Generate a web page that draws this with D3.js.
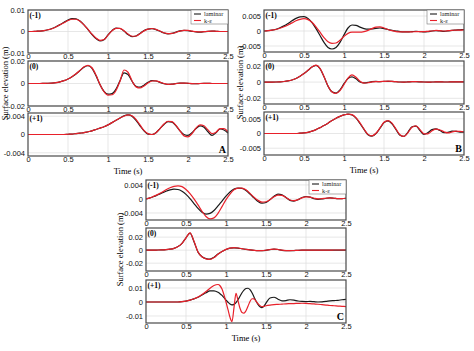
<!DOCTYPE html>
<html>
<head>
<meta charset="utf-8">
<script src="https://cdn.jsdelivr.net/npm/d3@7"></script>
<style>
  body { margin: 0; background: #fff; }
  svg { display: block; font-family: "Liberation Serif", "Times New Roman", serif; }
</style>
</head>
<body>
<div id="chart"></div>
<script>
// ---- data ----
var time = [0, 0.05, 0.1, 0.15, 0.2, 0.25, 0.3, 0.35, 0.4, 0.45,
  0.5, 0.55, 0.6, 0.65, 0.7, 0.75, 0.8, 0.85, 0.9, 0.95,
  1, 1.05, 1.1, 1.15, 1.2, 1.25, 1.3, 1.35, 1.4, 1.45,
  1.5, 1.55, 1.6, 1.65, 1.7, 1.75, 1.8, 1.85, 1.9, 1.95,
  2, 2.05, 2.1, 2.15, 2.2, 2.25, 2.3, 2.35, 2.4, 2.45, 2.5];

// finer sampling for panel C (+1), where k-e has sharp spikes
var timeC3 = [0, 0.05, 0.1, 0.15, 0.2, 0.25, 0.3, 0.35, 0.4, 0.45,
  0.5, 0.55, 0.6, 0.65, 0.7, 0.75, 0.8, 0.85, 0.9,
  0.925, 0.95, 0.975, 1, 1.025, 1.05, 1.075, 1.1, 1.125, 1.15, 1.175, 1.2,
  1.225, 1.25, 1.275, 1.3, 1.325, 1.35, 1.375, 1.4, 1.425, 1.45, 1.475, 1.5,
  1.55, 1.6, 1.65, 1.7, 1.75, 1.8, 1.85, 1.9, 1.95, 2,
  2.05, 2.1, 2.15, 2.2, 2.25, 2.3, 2.35, 2.4, 2.45, 2.5];

var xTicks = [0, 0.5, 1, 1.5, 2, 2.5];
var seriesNames = ["laminar", "k-\u03b5"];

// A
var a1Laminar = [0, 0, 0.0001, 0.0002, 0.0004, 0.0008, 0.0014, 0.0022, 0.0032, 0.0043,
  0.0053, 0.0060, 0.0059, 0.0049, 0.0031, 0.0009, -0.0014, -0.0033, -0.0044, -0.0038,
  -0.0016, 0.0004, 0.0016, 0.0014, 0.0002, -0.0014, -0.0024, -0.0021, -0.0009, 0.0004,
  0.0011, 0.0013, 0.0009, 0.0001, -0.0007, -0.0011, -0.0009, -0.0003, 0.0003, 0.0005,
  0.0004, 0.0001, -0.0002, -0.0003, -0.0001, 0.0001, 0.0002, 0.0001, 0, 0, 0];
var a1KE = [0, 0, 0.0001, 0.0002, 0.0004, 0.0008, 0.0013, 0.0021, 0.0031, 0.0041,
  0.0051, 0.0057, 0.0057, 0.0048, 0.0031, 0.0010, -0.0012, -0.0030, -0.0041, -0.0037,
  -0.0017, 0.0003, 0.0015, 0.0015, 0.0004, -0.0012, -0.0022, -0.0021, -0.0010, 0.0003,
  0.0011, 0.0014, 0.0010, 0.0002, -0.0006, -0.0010, -0.0009, -0.0004, 0.0002, 0.0005,
  0.0005, 0.0002, -0.0001, -0.0002, -0.0001, 0.0001, 0.0002, 0.0001, 0, 0, 0];
var a1Ticks = [-0.01, 0, 0.01];

var a2Laminar = [0, 0, 0, 0, 0.0001, 0.0002, 0.0004, 0.0008, 0.0015, 0.0025,
  0.0040, 0.0060, 0.0085, 0.0115, 0.0145, 0.0158, 0.0135, 0.0070, -0.0010, -0.0070,
  -0.0095, -0.0090, -0.0050, 0.0025, 0.0095, 0.0080, 0.0020, -0.0025, -0.0033, -0.0015,
  0.0010, 0.0025, 0.0022, 0.0010, -0.0002, -0.0008, -0.0006, 0, 0.0004, 0.0004,
  0.0001, -0.0002, -0.0002, 0, 0.0001, 0.0001, 0, 0, 0, 0, 0];
var a2KE = [0, 0, 0, 0, 0.0001, 0.0002, 0.0004, 0.0008, 0.0015, 0.0025,
  0.0040, 0.0060, 0.0086, 0.0117, 0.0148, 0.0162, 0.0140, 0.0075, -0.0008, -0.0072,
  -0.0103, -0.0100, -0.0062, 0.0020, 0.0120, 0.0100, 0.0025, -0.0030, -0.0040, -0.0022,
  0.0005, 0.0022, 0.0023, 0.0012, 0, -0.0007, -0.0006, -0.0001, 0.0003, 0.0004,
  0.0002, -0.0001, -0.0002, 0, 0.0001, 0.0001, 0, 0, 0, 0, 0];
var a2Ticks = [-0.02, 0, 0.02];

var a3Laminar = [0, 0, 0, 0, 0, 0, 0, 0, 0, 0,
  0.00005, 0.0001, 0.0002, 0.0003, 0.0004, 0.0006, 0.0008, 0.0011, 0.0014, 0.0017,
  0.0021, 0.0026, 0.0031, 0.0036, 0.0041, 0.0043, 0.0040, 0.0031, 0.0019, 0.0008,
  0.0001, 0, 0.0004, 0.0013, 0.0022, 0.0028, 0.0027, 0.0019, 0.0008, 0,
  -0.0002, 0.0004, 0.0013, 0.0019, 0.0016, 0.0006, -0.0002, 0.0004, 0.0012, 0.0010, 0.0003];
var a3KE = [0, 0, 0, 0, 0, 0, 0, 0, 0, 0,
  0.00005, 0.0001, 0.0002, 0.0003, 0.0004, 0.0006, 0.0008, 0.0011, 0.0014, 0.0017,
  0.0021, 0.0026, 0.0031, 0.0036, 0.0040, 0.0043, 0.0041, 0.0033, 0.0021, 0.0009,
  0.0002, 0, 0.0004, 0.0013, 0.0023, 0.0029, 0.0028, 0.0020, 0.0008, -0.0003,
  -0.0005, 0.0002, 0.0014, 0.0021, 0.0019, 0.0010, 0.0002, 0.0005, 0.0013, 0.0013, 0.0006];
var a3Ticks = [-0.004, 0, 0.004];

// B
var b1Laminar = [0, 0.0001, 0.0003, 0.0006, 0.0011, 0.0017, 0.0025, 0.0034, 0.0042, 0.0047,
  0.0048, 0.0042, 0.0028, 0.0008, -0.0015, -0.0038, -0.0055, -0.0060, -0.0055, -0.0038,
  -0.0013, 0.0010, 0.0020, 0.0019, 0.0013, 0.0008, 0.0006, 0.0007, 0.0009, 0.0010,
  0.0008, 0.0005, 0.0002, 0, -0.0002, -0.0003, -0.0003, -0.0002, -0.0001, -0.0002,
  -0.0003, -0.0002, 0, 0.0001, 0, -0.0001, 0, 0.0002, 0.0003, 0.0004, 0.0005];
var b1KE = [0, 0.0001, 0.0003, 0.0005, 0.0009, 0.0014, 0.0020, 0.0027, 0.0034, 0.0039,
  0.0041, 0.0038, 0.0029, 0.0014, -0.0004, -0.0022, -0.0036, -0.0041, -0.0040, -0.0031,
  -0.0018, -0.0008, -0.0004, -0.0004, -0.0004, -0.0002, 0.0002, 0.0008, 0.0013, 0.0014,
  0.0010, 0.0005, 0.0001, -0.0002, -0.0003, -0.0003, -0.0003, -0.0003, -0.0002, -0.0002,
  -0.0002, -0.0001, 0, 0.0002, 0.0001, 0, 0.0001, 0.0002, 0.0003, 0.0003, 0.0004];
var b1Ticks = [-0.005, 0, 0.005];

var b2Laminar = [0, 0, 0, 0.0001, 0.0003, 0.0007, 0.0014, 0.0026, 0.0045, 0.0072,
  0.0105, 0.0145, 0.0185, 0.0205, 0.0165, 0.0065, -0.0050, -0.0120, -0.0135, -0.0095,
  -0.0020, 0.0045, 0.0065, 0.0040, 0.0002, -0.0010, -0.0004, 0.0005, 0.0008, 0.0006,
  0.0008, 0.0010, 0.0008, 0.0004, 0.0001, 0, 0.0002, 0.0004, 0.0005, 0.0003,
  0.0001, 0, 0.0001, 0.0002, 0.0002, 0.0001, 0.0001, 0.0002, 0.0002, 0.0002, 0.0002];
var b2KE = [0, 0, 0, 0.0001, 0.0003, 0.0007, 0.0014, 0.0026, 0.0045, 0.0072,
  0.0105, 0.0146, 0.0187, 0.0208, 0.0170, 0.0070, -0.0048, -0.0122, -0.0140, -0.0105,
  -0.0030, 0.0050, 0.0090, 0.0060, 0.0010, -0.0012, -0.0008, 0.0002, 0.0007, 0.0007,
  0.0009, 0.0011, 0.0009, 0.0005, 0.0001, 0, 0.0002, 0.0005, 0.0006, 0.0003,
  0.0001, 0, 0.0001, 0.0002, 0.0002, 0.0001, 0.0001, 0.0002, 0.0002, 0.0002, 0.0002];
var b2Ticks = [-0.02, 0, 0.02];

var b3Laminar = [0, 0, 0, 0, 0, 0, 0, 0, 0, 0.0001,
  0.0002, 0.0004, 0.0008, 0.0013, 0.0020, 0.0027, 0.0035, 0.0044, 0.0052, 0.0058,
  0.0063, 0.0066, 0.0063, 0.0052, 0.0034, 0.0014, -0.0004, -0.0009, 0, 0.0018,
  0.0037, 0.0043, 0.0033, 0.0013, -0.0006, -0.0010, 0.0005, 0.0023, 0.0025, 0.0010,
  -0.0003, 0.0003, 0.0013, 0.0016, 0.0010, 0.0003, 0.0004, 0.0008, 0.0007, 0.0005, 0.0005];
var b3KE = [0, 0, 0, 0, 0, 0, 0, 0, 0, 0.0001,
  0.0002, 0.0004, 0.0008, 0.0013, 0.0020, 0.0027, 0.0035, 0.0044, 0.0052, 0.0058,
  0.0063, 0.0066, 0.0064, 0.0054, 0.0036, 0.0015, -0.0003, -0.0008, 0.0001, 0.0019,
  0.0038, 0.0044, 0.0035, 0.0015, -0.0004, -0.0010, 0.0003, 0.0021, 0.0026, 0.0013,
  -0.0001, -0.0001, 0.0009, 0.0015, 0.0012, 0.0006, 0.0002, 0.0005, 0.0008, 0.0007, 0.0006];
var b3Ticks = [-0.005, 0, 0.005];

// C
var c1Laminar = [0, 0.0003, 0.0007, 0.0012, 0.0017, 0.0022, 0.0026, 0.0028, 0.0027, 0.0022,
  0.0013, 0.0001, -0.0013, -0.0027, -0.0038, -0.0043, -0.0041, -0.0033, -0.0020, -0.0006,
  0.0008, 0.0020, 0.0028, 0.0031, 0.0030, 0.0024, 0.0014, 0.0003, -0.0007, -0.0012,
  -0.0010, -0.0002, 0.0008, 0.0014, 0.0012, 0.0004, -0.0004, -0.0006, -0.0002, 0.0004,
  0.0007, 0.0005, 0.0001, -0.0001, 0, 0.0002, 0.0003, 0.0002, 0.0001, 0.0001, 0.0002];
var c1KE = [0, 0.0003, 0.0008, 0.0013, 0.0019, 0.0026, 0.0032, 0.0036, 0.0037, 0.0035,
  0.0027, 0.0015, 0, -0.0017, -0.0035, -0.0050, -0.0057, -0.0054, -0.0041, -0.0022,
  -0.0002, 0.0014, 0.0026, 0.0031, 0.0031, 0.0026, 0.0016, 0.0005, -0.0004, -0.0009,
  -0.0008, -0.0002, 0.0006, 0.0011, 0.0010, 0.0004, -0.0003, -0.0005, -0.0002, 0.0003,
  0.0006, 0.0005, 0.0002, 0, 0.0001, 0.0002, 0.0003, 0.0002, 0.0001, 0.0001, 0.0002];
var c1Ticks = [-0.004, 0, 0.004];

var c2Laminar = [0, 0, 0.0001, 0.0002, 0.0004, 0.0008, 0.0015, 0.0028, 0.0055, 0.0105,
  0.0190, 0.0262, 0.0130, -0.0030, -0.0100, -0.0130, -0.0138, -0.0110, -0.0060, -0.0020,
  0.0010, 0.0030, 0.0036, 0.0032, 0.0022, 0.0012, 0.0003, -0.0004, -0.0009, -0.0008,
  -0.0002, 0.0008, 0.0015, 0.0010, -0.0002, -0.0008, -0.0009, -0.0006, -0.0002, 0,
  0.0001, 0, -0.0001, -0.0001, 0, 0.0001, 0.0001, 0.0001, 0.0001, 0.0001, 0.0001];
var c2KE = [0, 0, 0.0001, 0.0002, 0.0004, 0.0008, 0.0015, 0.0028, 0.0055, 0.0105,
  0.0190, 0.0265, 0.0135, -0.0028, -0.0102, -0.0134, -0.0142, -0.0114, -0.0062, -0.0020,
  0.0012, 0.0032, 0.0038, 0.0033, 0.0023, 0.0012, 0.0003, -0.0004, -0.0008, -0.0007,
  0, 0.0010, 0.0016, 0.0010, -0.0001, -0.0006, -0.0007, -0.0005, -0.0002, 0,
  0.0001, 0.0001, 0, 0, 0.0001, 0.0001, 0.0001, 0.0002, 0.0002, 0.0002, 0.0002];
var c2Ticks = [-0.02, 0, 0.02];

var c3Laminar = [0, 0, 0, 0, 0, 0, 0, 0, 0, 0.0002,
  0.0006, 0.0013, 0.0022, 0.0034, 0.0050, 0.0066, 0.0079, 0.0080, 0.0069,
  0.0059, 0.0047, 0.0031, 0.0014, -0.0002, -0.0015, -0.0021, -0.0017, -0.0004, 0.0016, 0.0041, 0.0066,
  0.0085, 0.0096, 0.0098, 0.0088, 0.0066, 0.0036, 0.0007, -0.0018, -0.0034, -0.0040, -0.0030, -0.0008,
  0.0028, 0.0034, 0.0020, 0.0008, 0.0010, 0.0016, 0.0013, 0.0007, 0.0004, 0.0003,
  0.0004, 0.0002, 0, 0.0001, 0.0004, 0.0008, 0.0010, 0.0012, 0.0016, 0.0019];
var c3KE = [0, 0, 0, 0, 0, 0, 0, 0, 0, 0.0002,
  0.0006, 0.0013, 0.0023, 0.0036, 0.0054, 0.0075, 0.0098, 0.0118, 0.0125,
  0.0116, 0.0092, 0.0050, 0, -0.0055, -0.0110, -0.0140, -0.0040, 0.0062, 0.0010, -0.0045, -0.0075,
  -0.0080, -0.0062, -0.0030, 0.0004, 0.0023, 0.0022, 0.0006, -0.0012, -0.0026, -0.0033, -0.0031, -0.0027,
  -0.0022, -0.0019, -0.0017, -0.0015, -0.0013, -0.0012, -0.0011, -0.0010, -0.0009, -0.0010,
  -0.0012, -0.0014, -0.0016, -0.0019, -0.0022, -0.0025, -0.0027, -0.0029, -0.0031, -0.0033];
var c3Ticks = [-0.01, 0, 0.01];

// ---- layout ----
var width = 474, height = 351;
var lineColors = ["#1a1a1a", "#e8202a"];

var panels = [
  { letter: "A", x0: 28, x1: 228, yLabelX: 8,
    subs: [
      { tag: "(-1)", top: 10, bottom: 53, dom: [-0.01, 0.01], ticks: a1Ticks, t: time, s: [a1Laminar, a1KE], legend: true },
      { tag: "(0)", top: 61, bottom: 106, dom: [-0.02, 0.02], ticks: a2Ticks, t: time, s: [a2Laminar, a2KE] },
      { tag: "(+1)", top: 113, bottom: 156, dom: [-0.0047, 0.0047], ticks: a3Ticks, t: time, s: [a3Laminar, a3KE] }
    ] },
  { letter: "B", x0: 264, x1: 464, yLabelX: 243,
    subs: [
      { tag: "(-1)", top: 10, bottom: 52, dom: [-0.007, 0.007], ticks: b1Ticks, t: time, s: [b1Laminar, b1KE], legend: true },
      { tag: "(0)", top: 61, bottom: 104, dom: [-0.027, 0.026], ticks: b2Ticks, t: time, s: [b2Laminar, b2KE] },
      { tag: "(+1)", top: 112, bottom: 155, dom: [-0.0073, 0.0073], ticks: b3Ticks, t: time, s: [b3Laminar, b3KE] }
    ] },
  { letter: "C", x0: 146, x1: 346, yLabelX: 123,
    subs: [
      { tag: "(-1)", top: 180, bottom: 220, dom: [-0.006, 0.0054], ticks: c1Ticks, t: time, s: [c1Laminar, c1KE], legend: true },
      { tag: "(0)", top: 228, bottom: 271, dom: [-0.032, 0.034], ticks: c2Ticks, t: time, s: [c2Laminar, c2KE] },
      { tag: "(+1)", top: 280, bottom: 323, dom: [-0.015, 0.0157], ticks: c3Ticks, t: timeC3, s: [c3Laminar, c3KE] }
    ] }
];

var svg = d3.select("#chart").append("svg")
    .attr("width", width)
    .attr("height", height);

function fmtTick(d) {
  if (d === 0) return "0";
  return (d < 0 ? "-" : "") + Math.abs(d);
}

function drawSub(p, sub, isLast) {
  var x = d3.scaleLinear().domain([0, 2.5]).range([p.x0, p.x1]);
  var y = d3.scaleLinear().domain(sub.dom).range([sub.bottom, sub.top]);
  var g = svg.append("g");

  // grid
  g.selectAll(".vgrid").data(xTicks.slice(1, -1))
    .enter().append("line")
    .attr("x1", function(d) { return x(d); })
    .attr("x2", function(d) { return x(d); })
    .attr("y1", sub.top).attr("y2", sub.bottom)
    .attr("stroke", "#dcdcdc").attr("stroke-width", 0.7);
  g.selectAll(".hgrid").data(sub.ticks)
    .enter().append("line")
    .attr("x1", p.x0).attr("x2", p.x1)
    .attr("y1", function(d) { return y(d); })
    .attr("y2", function(d) { return y(d); })
    .attr("stroke", "#dcdcdc").attr("stroke-width", 0.7);

  var clipId = "clip-" + p.letter + sub.top;
  svg.append("clipPath").attr("id", clipId).append("rect")
    .attr("x", p.x0).attr("y", sub.top)
    .attr("width", p.x1 - p.x0).attr("height", sub.bottom - sub.top);

  var line = d3.line()
    .x(function(d, i) { return x(sub.t[i]); })
    .y(function(d) { return y(d); })
    .curve(d3.curveMonotoneX);

  sub.s.forEach(function(vals, k) {
    g.append("path")
      .attr("d", line(vals))
      .attr("clip-path", "url(#" + clipId + ")")
      .attr("fill", "none")
      .attr("stroke", lineColors[k])
      .attr("stroke-width", 1.2);
  });

  // frame
  g.append("rect")
    .attr("x", p.x0).attr("y", sub.top)
    .attr("width", p.x1 - p.x0).attr("height", sub.bottom - sub.top)
    .attr("fill", "none").attr("stroke", "#4a4a4a").attr("stroke-width", 1.2);

  // axes
  var yAxis = d3.axisLeft(y).tickValues(sub.ticks).tickFormat(fmtTick).tickSize(0).tickPadding(3);
  var ya = g.append("g").attr("transform", "translate(" + p.x0 + ",0)").call(yAxis);
  ya.select(".domain").remove();
  ya.selectAll("text").style("font-size", "7.5px").attr("fill", "#111");

  var xAxis = d3.axisBottom(x).tickValues(xTicks).tickFormat(d3.format("")).tickSize(0).tickPadding(0.5);
  var xa = g.append("g").attr("transform", "translate(0," + sub.bottom + ")").call(xAxis);
  xa.select(".domain").remove();
  xa.selectAll("text").style("font-size", "7.5px").attr("fill", "#111");

  // sub tag
  g.append("text")
    .attr("x", p.x0 + 1.5).attr("y", sub.top + 7.5)
    .style("font-size", "7.5px").style("font-weight", "bold")
    .text(sub.tag);

  if (sub.legend) {
    var lw = 37, lh = 14;
    var lg = g.append("g").attr("transform", "translate(" + (p.x1 - lw) + "," + sub.top + ")");
    lg.append("rect").attr("width", lw).attr("height", lh)
      .attr("fill", "#fff").attr("stroke", "#777").attr("stroke-width", 0.6);
    seriesNames.forEach(function(name, k) {
      var yy = 4 + k * 6.5;
      lg.append("line").attr("x1", 3).attr("x2", 10).attr("y1", yy).attr("y2", yy)
        .attr("stroke", lineColors[k]).attr("stroke-width", 1.1);
      lg.append("text").attr("x", 13).attr("y", yy + 2)
        .style("font-size", "6.3px").attr("fill", "#222").text(name);
    });
  }

  if (isLast) {
    g.append("text")
      .attr("x", p.x1 - 2).attr("y", sub.bottom - 3)
      .attr("text-anchor", "end")
      .style("font-size", "10px").style("font-weight", "bold")
      .text(p.letter);
    g.append("text")
      .attr("x", (p.x0 + p.x1) / 2).attr("y", sub.bottom + 18)
      .attr("text-anchor", "middle")
      .style("font-size", "8.5px")
      .text("Time (s)");
  }
}

panels.forEach(function(p) {
  p.subs.forEach(function(sub, i) { drawSub(p, sub, i === p.subs.length - 1); });
  var mid = p.subs[1];
  var cy = (mid.top + mid.bottom) / 2;
  svg.append("text")
    .attr("transform", "translate(" + p.yLabelX + "," + cy + ") rotate(-90)")
    .attr("text-anchor", "middle")
    .style("font-size", "8.5px")
    .text("Surface elevation (m)");
});
</script>
</body>
</html>
